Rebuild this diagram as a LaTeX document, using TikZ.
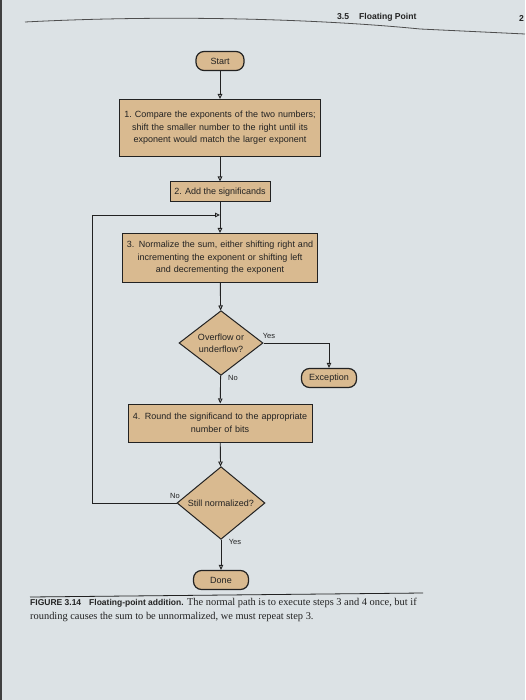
\documentclass[tikz,border=0pt]{standalone}
\usepackage{fontspec}
\setmainfont{Liberation Serif}
\setsansfont{Liberation Sans}
\usetikzlibrary{shapes.geometric,arrows.meta}
\definecolor{bg}{HTML}{DCE2E5}
\definecolor{tanfill}{HTML}{D9BA90}
\definecolor{ink}{HTML}{222222}
\begin{document}
\begin{tikzpicture}[x=1pt,y=-1pt,
  stepbox/.style={draw=ink, line width=1pt, fill=tanfill, align=center, text=ink,
    font=\sffamily\fontsize{9}{12.5}\selectfont, inner sep=3pt},
  term/.style={draw=ink, line width=1.2pt, fill=tanfill, rounded corners=8pt, text=ink,
    font=\sffamily\fontsize{9}{10}\selectfont, inner sep=0pt, minimum height=19pt},
  decision/.style={diamond, draw=ink, line width=1pt, fill=tanfill, inner sep=0pt, align=center,
    text=ink, font=\sffamily\fontsize{9}{12}\selectfont},
  flow/.style={draw=ink, line width=0.9pt, -{Triangle[open, length=5pt, width=4.5pt]}},
  plain/.style={draw=ink, line width=0.9pt},
  lbl/.style={text=ink, font=\sffamily\fontsize{7.5}{9}\selectfont, inner sep=0pt}]
\fill[bg] (0,0) rectangle (525,700);
\useasboundingbox (0,0) rectangle (525,700);
\fill[black!75] (0,0) rectangle (2,700);

% running head
\draw[ink!80, line width=0.8pt] (25,22) .. controls (180,14) and (330,20) .. (420,29) -- (525,34);
\node[text=ink, font=\sffamily\bfseries\fontsize{8.6}{10}\selectfont, inner sep=0pt, anchor=west] (head) at (337,17) {3.5\hspace{10pt}Floating Point};
\node[text=ink, font=\sffamily\bfseries\fontsize{8.6}{10}\selectfont, inner sep=0pt, anchor=west] (pageno) at (519,19) {2};

% flowchart nodes
\node[term, minimum width=48pt] (start) at (220,61) {Start};
\node[stepbox, text width=195pt, minimum height=57pt] (b1) at (220,128)
  {1.\ Compare the exponents of the two numbers;\\ shift the smaller number to the right until its\\ exponent would match the larger exponent};
\node[stepbox, minimum width=100pt, minimum height=20pt, inner sep=1pt] (b2) at (220,192) {2. Add the significands};
\node[stepbox, text width=189pt, minimum height=49pt] (b3) at (220,258)
  {3. Normalize the sum, either shifting right and\\ incrementing the exponent or shifting left\\ and decrementing the exponent};
\node[decision, minimum width=84pt, minimum height=60pt] (d1) at (221,343) {Overflow or\\ underflow?};
\node[term, minimum width=55pt] (exc) at (329,378) {Exception};
\node[stepbox, text width=178pt, minimum height=38pt] (b4) at (220,423)
  {4. Round the significand to the appropriate\\ number of bits};
\node[decision, minimum width=88pt, minimum height=60pt] (d2) at (221,503) {Still normalized?};
\node[term, minimum width=55pt] (done) at (221,580) {Done};

\coordinate (join) at (220,215);
\coordinate (lc) at (92,215);

% connectors
\draw[flow] (start) -- (b1);
\draw[flow] (b1) -- (b2);
\draw[flow] (b2) -- (b3);
\draw[flow] (b3) -- (d1);
\draw[flow] (d1) -- (b4);
\draw[flow] (d1.east) -| (exc.north);
\draw[flow] (b4) -- (d2);
\draw[flow] (d2) -- (done);
\draw[plain] (d2.west) -| (lc);
\draw[flow] (lc) -- (join);

% branch labels
\node[lbl] (yes1) at (269,336) {Yes};
\node[lbl] (no1) at (233,378) {No};
\node[lbl] (no2) at (175,496) {No};
\node[lbl] (yes2) at (235,542) {Yes};

% caption
\draw[ink, line width=0.8pt] (30,597) -- (423,593);
\node[anchor=north west, inner sep=0pt, align=left, text=ink,
  font=\rmfamily\fontsize{10.4}{13.5}\selectfont] (cap) at (30,598)
  {{\sffamily\bfseries\fontsize{8.5}{9}\selectfont FIGURE 3.14\hspace{8pt}Floating-point addition.} The normal path is to execute steps 3 and 4 once, but if\\
   rounding causes the sum to be unnormalized, we must repeat step 3.};
\end{tikzpicture}
\end{document}
